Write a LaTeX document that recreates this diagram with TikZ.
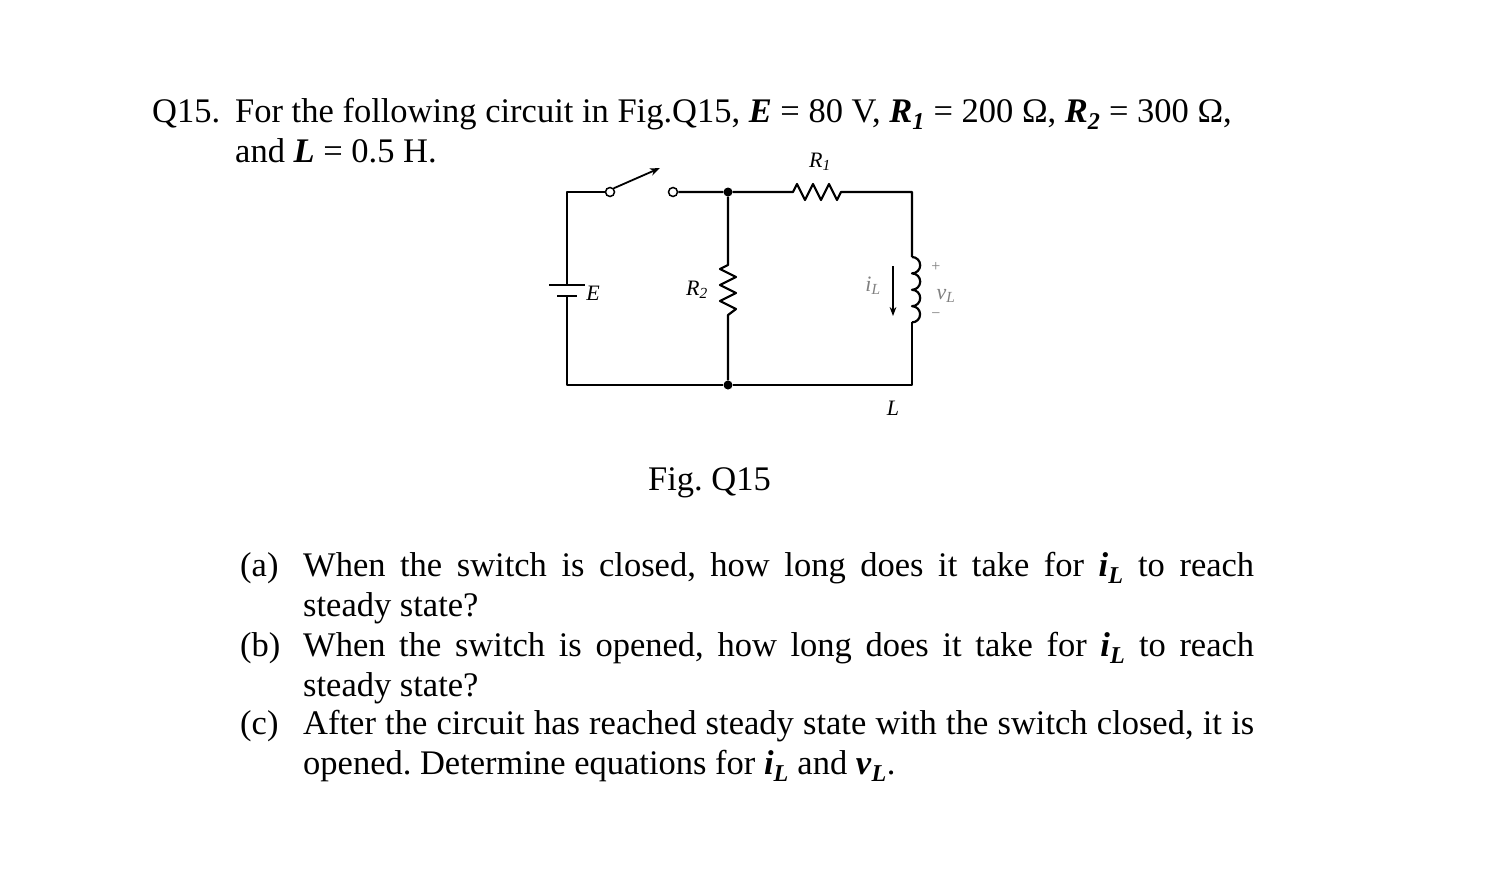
\documentclass[tikz,border=0pt]{standalone}
\usepackage{fontspec}
\setmainfont{Liberation Serif}
\usetikzlibrary{arrows.meta}
\newcommand{\bi}[1]{\textbf{\textit{#1}}}
\newcommand{\qitem}[1]{\leftskip=63pt\hspace*{-63pt}\makebox[63pt][l]{#1}}
\frenchspacing
\begin{document}
\begin{tikzpicture}[x=1pt,y=-1pt,
  txt/.style={anchor=base west,inner sep=0pt,font=\fontsize{34.5}{40}\selectfont},
  para/.style={anchor=north west,inner sep=0pt,text width=951pt,align=justify,font=\fontsize{34.5}{40}\selectfont},
  lbl/.style={inner sep=0pt,font=\fontsize{22}{24}\selectfont\itshape},
  wire/.style={line width=2.2pt,line join=round},
  dot/.style={circle,fill=black,inner sep=0pt,minimum size=9pt},
  term/.style={circle,draw,line width=1.5pt,fill=white,inner sep=0pt,minimum size=9pt}]
\useasboundingbox (0,0) rectangle (1491,875);
\node[txt] (q) at (152,122) {Q15.};
\node[txt] (l1) at (235,122) {For the following circuit in Fig.Q15, \bi{E} = 80 V, \bi{R}\textsubscript{\bi{1}} = 200 Ω, \bi{R}\textsubscript{\bi{2}} = 300 Ω,};
\node[txt] (l2) at (235,162) {and \bi{L} = 0.5 H.};
% circuit
\coordinate (tl) at (567,192);
\coordinate (bl) at (567,385);
\node[term] (s1) at (610,192) {};
\node[term] (s2) at (673,192) {};
\node[dot] (nt) at (728,192) {};
\node[dot] (nb) at (728,385) {};
\coordinate (tr) at (912,192);
\coordinate (br) at (912,385);
\coordinate (bat1) at (567,285);
\coordinate (bat2) at (567,296);
\draw[wire] (bat1) -- (tl) -- (s1);
\draw[wire] (bat2) -- (bl) -- (nb) -- (br) -- (912,322);
\draw[line width=2.4pt] (549,285) -- (585,285);
\draw[line width=2.4pt] (557,296) -- (577,296);
\draw[line width=1.8pt,-{Stealth[length=10pt]}] (s1.north east) -- (660,168);
\draw[wire] (s2) -- (nt) -- (793,192) -- (797,184) -- (805,200) -- (813,184) -- (821,200) -- (829,184) -- (837,200) -- (841,192) -- (845,192) -- (tr) -- (912,257);
\draw[wire] (nt) -- (728,265) -- (720,269) -- (736,277) -- (720,285) -- (736,293) -- (720,301) -- (736,309) -- (728,315) -- (nb);
\draw[wire] (912,257) arc(-90:90:8.2) arc(-90:90:8.2) arc(-90:90:8.2) arc(-90:90:8.1);
\draw[line width=1.2pt,-{Stealth[length=9pt]}] (893,266) -- (893,316);
\node[lbl] (le) at (593,293) {E};
\node[lbl] (lr2) at (697,290) {R\textsubscript{2}};
\node[lbl] (lr1) at (820,162) {R\textsubscript{1}};
\node[lbl,text=gray] (lil) at (873,286) {i\textsubscript{L}};
\node[lbl,text=gray,font=\fontsize{16}{18}\selectfont] (lp) at (936,267) {+};
\node[lbl,text=gray] (lvl) at (946,296) {v\textsubscript{L}};
\node[lbl,text=gray,font=\fontsize{16}{18}\selectfont] (lm) at (936,316) {−};
\node[lbl] (ll) at (893,408) {L};
\node[txt] (fig) at (648,490) {Fig. Q15};
% questions
\node[para] (ta) at (303,552) {\qitem{(a)}When the switch is closed, how long does it take for \bi{i}\textsubscript{\bi{L}} to reach\linebreak steady state?};
\node[para] (tb) at (303,632) {\qitem{(b)}When the switch is opened, how long does it take for \bi{i}\textsubscript{\bi{L}} to reach\linebreak steady state?};
\node[para] (tc) at (303,710) {\qitem{(c)}After the circuit has reached steady state with the switch closed, it is opened. Determine equations for \bi{i}\textsubscript{\bi{L}} and \bi{v}\textsubscript{\bi{L}}.};
\end{tikzpicture}
\end{document}
